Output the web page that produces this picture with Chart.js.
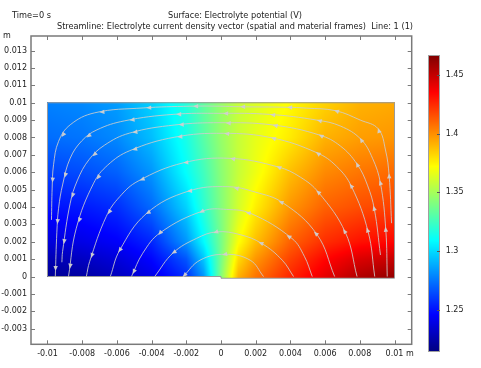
<!DOCTYPE html>
<html>
<head>
<meta charset="utf-8">
<script src="https://cdn.jsdelivr.net/npm/chart.js@4.4.0/dist/chart.umd.min.js"></script>
<style>
  html, body { margin: 0; padding: 0; background: #fff; }
  #chart { display: block; }
</style>
</head>
<body>
<canvas id="chart" width="481" height="368"></canvas>
<script>
// axis ticks (m)
const xTicks = [-0.01, -0.008, -0.006, -0.004, -0.002, 0, 0.002, 0.004, 0.006, 0.008, 0.01]
const xTickLabels = ['-0.01', '-0.008', '-0.006', '-0.004', '-0.002', '0', '0.002', '0.004', '0.006', '0.008', '0.01']
const yTicks = [-0.003, -0.002, -0.001, 0, 0.001, 0.002, 0.003, 0.004, 0.005, 0.006, 0.007, 0.008, 0.009, 0.01, 0.011, 0.012, 0.013]
const yTickLabels = ['-0.003', '-0.002', '-0.001', '0', '0.001', '0.002', '0.003', '0.004', '0.005', '0.006', '0.007', '0.008', '0.009', '0.01', '0.011', '0.012', '0.013']

// colour legend (V)
const cbTicks = [1.25, 1.3, 1.35, 1.4, 1.45]
const cbTickLabels = ['1.25', '1.3', '1.35', '1.4', '1.45']
const cbMin = 1.2146
const cbMax = 1.4665

// electrolyte potential (V), rows = gridY, columns = gridX
const gridX = [-0.01, -0.008, -0.006, -0.004, -0.002, -0.001, 0, 0.001, 0.002, 0.004, 0.006, 0.008, 0.01]
const gridY = [0, 0.001, 0.002, 0.004, 0.006, 0.008, 0.01]
const potential = [
  [1.220, 1.223, 1.230, 1.240, 1.257, 1.283, 1.341, 1.391, 1.406, 1.426, 1.441, 1.454, 1.461],
  [1.227, 1.231, 1.237, 1.247, 1.267, 1.295, 1.338, 1.381, 1.398, 1.419, 1.434, 1.444, 1.449],
  [1.237, 1.240, 1.245, 1.255, 1.283, 1.308, 1.338, 1.371, 1.388, 1.411, 1.424, 1.431, 1.434],
  [1.250, 1.252, 1.257, 1.272, 1.298, 1.320, 1.341, 1.361, 1.376, 1.398, 1.411, 1.416, 1.419],
  [1.262, 1.265, 1.270, 1.283, 1.310, 1.325, 1.343, 1.358, 1.368, 1.388, 1.401, 1.406, 1.409],
  [1.273, 1.275, 1.280, 1.293, 1.315, 1.331, 1.346, 1.358, 1.366, 1.377, 1.391, 1.396, 1.398],
  [1.278, 1.280, 1.285, 1.298, 1.318, 1.333, 1.346, 1.358, 1.363, 1.373, 1.383, 1.391, 1.393]
]

// domain outline
const geomX = [-0.01, 0.01, 0.01, 0, 0, -0.01]
const geomY = [0.01, 0.01, -0.0001, -0.0001, 0, 0]

// streamlines, in flow direction (right electrode -> left electrode)
const line1 = [[0.00983, 0.00307], [0.00969, 0.00579], [0.00948, 0.00728], [0.00906, 0.00850], [0.00803, 0.00900], [0.00661, 0.00954], [0.00491, 0.00969], [0.00380, 0.00974], [0.00104, 0.00977], [-0.00006, 0.00980], [-0.00179, 0.00980], [-0.00449, 0.00970], [-0.00728, 0.00942], [-0.00869, 0.00873], [-0.00936, 0.00778], [-0.00965, 0.00643], [-0.00973, 0.00509], [-0.00977, 0.00326]]
const line2 = [[0.00958, 0], [0.00950, 0.00264], [0.00919, 0.00537], [0.00873, 0.00681], [0.00805, 0.00791], [0.00688, 0.00866], [0.00553, 0.00900], [0.00279, 0.00933], [-0.00006, 0.00939], [-0.00276, 0.00933], [-0.00555, 0.00896], [-0.00715, 0.00844], [-0.00802, 0.00781], [-0.00869, 0.00681], [-0.00912, 0.00532], [-0.00936, 0.00393], [-0.00946, 0.00255], [-0.00955, 0]]
const line3 = [[0.00919, 0.00124], [0.00884, 0.00386], [0.00844, 0.00526], [0.00784, 0.00647], [0.00688, 0.00751], [0.00568, 0.00814], [0.00299, 0.00872], [-0.00006, 0.00885], [-0.00266, 0.00872], [-0.00528, 0.00825], [-0.00671, 0.00756], [-0.00761, 0.00672], [-0.00827, 0.00555], [-0.00869, 0.00422], [-0.00913, 0.00144], [-0.00917, 0.00082]]
const line4 = [[0.00886, 0], [0.00848, 0.00257], [0.00751, 0.00520], [0.00665, 0.00635], [0.00553, 0.00712], [0.00293, 0.00798], [0.00013, 0.00824], [-0.00266, 0.00802], [-0.00526, 0.00724], [-0.00653, 0.00641], [-0.00734, 0.00537], [-0.00834, 0.00278], [-0.00879, 0]]
const line5 = [[0.00784, 0], [0.00717, 0.00253], [0.00562, 0.00484], [0.00457, 0.00572], [0.00331, 0.00630], [0.00052, 0.00680], [-0.00218, 0.00654], [-0.00478, 0.00549], [-0.00584, 0.00459], [-0.00661, 0.00346], [-0.00757, 0.00086], [-0.00776, 0]]
const line6 = [[0.00655, 0], [0.00553, 0.00242], [0.00357, 0.00424], [0.00197, 0.00486], [0.00040, 0.00517], [-0.00189, 0.00491], [-0.00429, 0.00363], [-0.00584, 0.00151], [-0.00638, 0]]
const line7 = [[0.00526, 0], [0.00480, 0.00117], [0.00409, 0.00219], [0.00172, 0.00363], [0.00033, 0.00386], [-0.00102, 0.00378], [-0.00349, 0.00253], [-0.00451, 0.00134], [-0.00516, 0]]
const line8 = [[0.00418, 0], [0.00353, 0.00094], [0.00235, 0.00190], [0.00110, 0.00241], [-0.00025, 0.00257], [-0.00140, 0.00220], [-0.00276, 0.00136], [-0.00382, 0]]
const line9 = [[0.00245, 0], [0.00168, 0.00094], [0.00023, 0.00128], [-0.00121, 0.00094], [-0.00218, 0]]
const streamlines = [line1, line2, line3, line4, line5, line6, line7, line8, line9]

const FONT = '"DejaVu Sans", sans-serif'
const FRAME = '#7a7a7a'

function jet(t) {
  const c = v => Math.max(0, Math.min(1, v))
  return [c(1.5 - Math.abs(4 * t - 3)), c(1.5 - Math.abs(4 * t - 2)), c(1.5 - Math.abs(4 * t - 1))].map(v => Math.round(v * 255))
}

function potentialAt(xv, yv) {
  let i = 0
  while (i < gridX.length - 2 && xv > gridX[i + 1]) i++
  let j = 0
  while (j < gridY.length - 2 && yv > gridY[j + 1]) j++
  const fx = Math.max(0, Math.min(1, (xv - gridX[i]) / (gridX[i + 1] - gridX[i])))
  const fy = Math.max(0, Math.min(1, (yv - gridY[j]) / (gridY[j + 1] - gridY[j])))
  const a = potential[j][i], b = potential[j][i + 1]
  const c = potential[j + 1][i], d = potential[j + 1][i + 1]
  return (a * (1 - fx) + b * fx) * (1 - fy) + (c * (1 - fx) + d * fx) * fy
}

const surfacePlugin = {
  id: 'surface',
  beforeDatasetsDraw(chart) {
    const { ctx, scales: { x, y } } = chart
    const yLow = Math.min(...geomY)
    const px0 = Math.floor(x.getPixelForValue(Math.min(...geomX)))
    const px1 = Math.ceil(x.getPixelForValue(Math.max(...geomX)))
    const py0 = Math.floor(y.getPixelForValue(Math.max(...geomY)))
    const py1 = Math.ceil(y.getPixelForValue(yLow))
    const w = px1 - px0, h = py1 - py0
    const off = document.createElement('canvas')
    off.width = w
    off.height = h
    const octx = off.getContext('2d')
    const img = octx.createImageData(w, h)
    for (let j = 0; j < h; j++) {
      const yv = y.getValueForPixel(py0 + j + 0.5)
      for (let i = 0; i < w; i++) {
        const xv = x.getValueForPixel(px0 + i + 0.5)
        if (yv < 0 && xv < 0) continue
        if (yv < yLow) continue
        const v = potentialAt(xv, Math.max(0, yv))
        const [r, g, b] = jet((v - cbMin) / (cbMax - cbMin))
        const k = (j * w + i) * 4
        img.data[k] = r; img.data[k + 1] = g; img.data[k + 2] = b; img.data[k + 3] = 255
      }
    }
    octx.putImageData(img, 0, 0)
    ctx.save()
    const ca = chart.chartArea
    ctx.beginPath()
    ctx.rect(ca.left, ca.top, ca.right - ca.left, ca.bottom - ca.top)
    ctx.clip()
    ctx.drawImage(off, px0, py0)
    // domain outline
    ctx.beginPath()
    geomX.forEach((gx, k) => {
      const X = x.getPixelForValue(gx), Y = y.getPixelForValue(geomY[k])
      if (k === 0) ctx.moveTo(X, Y); else ctx.lineTo(X, Y)
    })
    ctx.closePath()
    ctx.strokeStyle = '#9a9a9a'
    ctx.lineWidth = 1
    ctx.stroke()
    ctx.restore()
  }
}

const arrowPlugin = {
  id: 'arrows',
  afterDatasetsDraw(chart) {
    const ctx = chart.ctx
    const step = 47
    ctx.save()
    ctx.fillStyle = 'rgba(208,208,208,0.95)'
    chart.data.datasets.forEach((ds, di) => {
      const pts = chart.getDatasetMeta(di).data.map(p => [p.x, p.y])
      let next = step, acc = 0
      for (let k = 1; k < pts.length; k++) {
        const dx = pts[k][0] - pts[k - 1][0], dy = pts[k][1] - pts[k - 1][1]
        const len = Math.hypot(dx, dy)
        while (acc + len >= next) {
          const f = (next - acc) / len
          const cx = pts[k - 1][0] + dx * f, cy = pts[k - 1][1] + dy * f
          const ux = dx / len, uy = dy / len
          ctx.beginPath()
          ctx.moveTo(cx + ux * 2.8, cy + uy * 2.8)
          ctx.lineTo(cx - ux * 2.2 - uy * 2.2, cy - uy * 2.2 + ux * 2.2)
          ctx.lineTo(cx - ux * 2.2 + uy * 2.2, cy - uy * 2.2 - ux * 2.2)
          ctx.closePath()
          ctx.fill()
          next += step
        }
        acc += len
      }
    })
    ctx.restore()
  }
}

const framePlugin = {
  id: 'frame',
  afterDraw(chart) {
    const { ctx, chartArea: ca, scales: { x, y, cb } } = chart
    ctx.save()
    // axes box with inward ticks
    ctx.strokeStyle = FRAME
    ctx.lineWidth = 1
    ctx.beginPath()
    xTicks.forEach(v => {
      const X = Math.round(x.getPixelForValue(v)) + 0.5
      ctx.moveTo(X, ca.bottom); ctx.lineTo(X, ca.bottom - 4)
      ctx.moveTo(X, ca.top); ctx.lineTo(X, ca.top + 4)
    })
    yTicks.forEach(v => {
      const Y = Math.round(y.getPixelForValue(v)) + 0.5
      ctx.moveTo(ca.left, Y); ctx.lineTo(ca.left + 4, Y)
      ctx.moveTo(ca.right, Y); ctx.lineTo(ca.right - 4, Y)
    })
    ctx.stroke()
    ctx.lineWidth = 1.5
    ctx.strokeRect(ca.left, ca.top, ca.right - ca.left, ca.bottom - ca.top)

    // colour legend
    const bx = 428, bw = 12
    const top = cb.getPixelForValue(cbMax), bot = cb.getPixelForValue(cbMin)
    for (let p = Math.floor(top); p < Math.ceil(bot); p++) {
      const v = cb.getValueForPixel(p + 0.5)
      const [r, g, b] = jet((v - cbMin) / (cbMax - cbMin))
      ctx.fillStyle = `rgb(${r},${g},${b})`
      ctx.fillRect(bx, p, bw, 1)
    }
    ctx.lineWidth = 1
    ctx.strokeStyle = '#a0a0a0'
    ctx.strokeRect(bx + 0.5, Math.floor(top) + 0.5, bw - 1, Math.ceil(bot) - Math.floor(top) - 1)
    ctx.strokeStyle = '#555'
    ctx.beginPath()
    cbTicks.forEach(v => {
      const Y = Math.round(cb.getPixelForValue(v)) + 0.5
      ctx.moveTo(bx + bw, Y); ctx.lineTo(bx + bw - 3, Y)
    })
    ctx.stroke()

    // titles and units
    ctx.fillStyle = '#222'
    ctx.font = '8.2px ' + FONT
    ctx.textBaseline = 'middle'
    ctx.textAlign = 'left'
    ctx.fillText('Time=0 s', 12, 16)
    ctx.font = '8px ' + FONT
    ctx.fillText('m', 3, 36)
    ctx.fillText('m', 406, 354)
    ctx.font = '8.2px ' + FONT
    ctx.textAlign = 'center'
    ctx.fillText('Surface: Electrolyte potential (V)', 235, 16)
    ctx.fillText('Streamline: Electrolyte current density vector (spatial and material frames)  Line: 1 (1)', 235, 26.5)
    ctx.restore()
  }
}

const tickFont = { family: FONT, size: 8 }
// fixed axis sizes; drop the label overflow padding so the plot box stays put
const fixSize = (w, h) => s => {
  if (w !== null) s.width = w
  if (h !== null) s.height = h
  s.paddingTop = 0
  s.paddingBottom = 0
  s.paddingLeft = 0
  s.paddingRight = 0
}

const chart = new Chart(document.getElementById('chart'), {
  type: 'scatter',
  data: {
    datasets: streamlines.map((pts, k) => ({
      label: 'Streamline ' + (k + 1),
      data: pts.map(p => ({ x: p[0], y: p[1] })),
      showLine: true,
      borderColor: 'rgba(205,205,205,0.85)',
      borderWidth: 1,
      pointRadius: 0,
      tension: 0.4
    }))
  },
  options: {
    responsive: false,
    animation: false,
    layout: { padding: { top: 36, left: 0, right: 0, bottom: 0 } },
    plugins: { legend: { display: false }, tooltip: { enabled: false } },
    scales: {
      x: {
        type: 'linear',
        min: -0.01095,
        max: 0.01099,
        afterBuildTicks: s => { s.ticks = xTicks.map(v => ({ value: v })) },
        afterFit: fixSize(null, 23.7),
        grid: { display: false, drawTicks: false },
        border: { display: false },
        ticks: { font: tickFont, color: '#222', padding: 5, maxRotation: 0, autoSkip: false, callback: (v, i) => xTickLabels[i] }
      },
      y: {
        type: 'linear',
        min: -0.0039,
        max: 0.01384,
        afterBuildTicks: s => { s.ticks = yTicks.map(v => ({ value: v })) },
        afterFit: fixSize(31, null),
        grid: { display: false, drawTicks: false },
        border: { display: false },
        ticks: { font: tickFont, color: '#222', padding: 4, autoSkip: false, callback: (v, i) => yTickLabels[i] }
      },
      cb: {
        type: 'linear',
        position: 'right',
        min: 1.22089,
        max: 1.4829,
        afterBuildTicks: s => { s.ticks = cbTicks.map(v => ({ value: v })) },
        afterFit: fixSize(69.3, null),
        grid: { display: false, drawTicks: false },
        border: { display: false },
        ticks: { font: tickFont, color: '#222', padding: 34, autoSkip: false, callback: (v, i) => cbTickLabels[i] }
      }
    }
  },
  plugins: [surfacePlugin, arrowPlugin, framePlugin]
})
</script>
</body>
</html>
